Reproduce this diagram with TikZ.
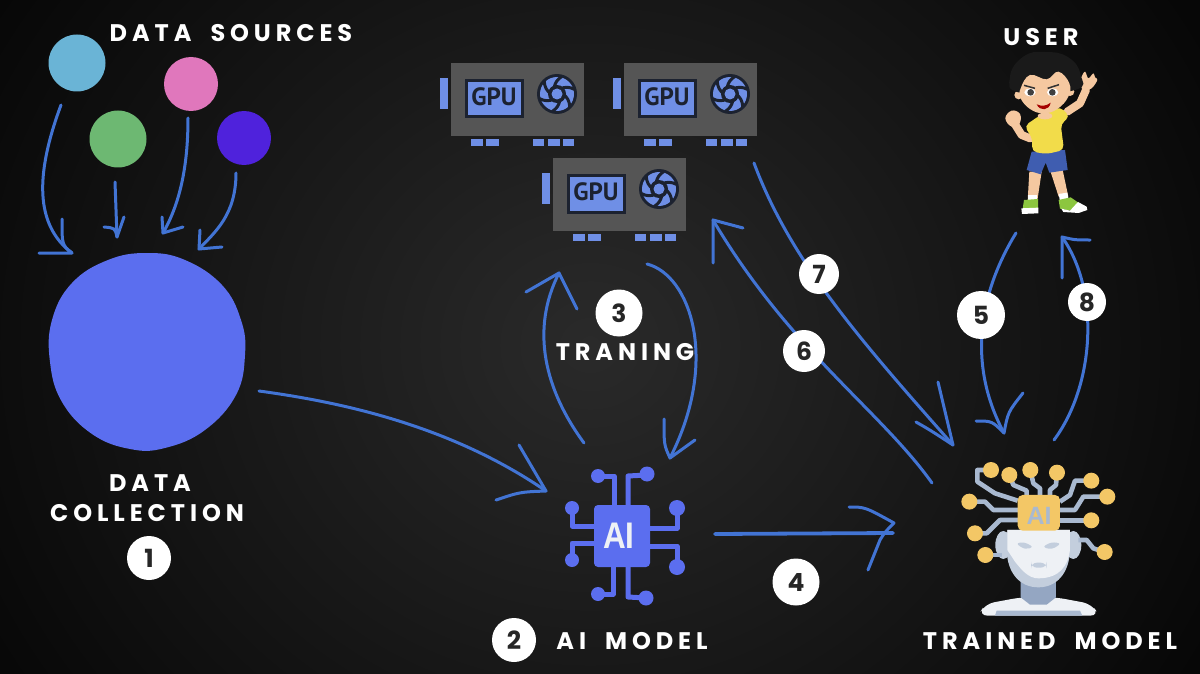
\documentclass[tikz,border=0pt]{standalone}
\usepackage{fontspec}
\setmainfont{Poppins}
\newfontfamily\lblfont[LetterSpace=20.5,WordSpace=1.9]{Poppins}
\newfontfamily\gpufont{PT Sans}
\newfontfamily\aifont{Liberation Sans}
\definecolor{bgdark}{HTML}{070707}
\definecolor{bglight}{HTML}{2A2A2A}
\definecolor{wire}{HTML}{4274D4}
\definecolor{srcA}{HTML}{6AB4D6}
\definecolor{srcB}{HTML}{E077BC}
\definecolor{srcC}{HTML}{6DB872}
\definecolor{srcD}{HTML}{4F22DC}
\definecolor{iris}{HTML}{5B6EEF}
\definecolor{gpublue}{HTML}{6F8FE6}
\definecolor{gpugray}{HTML}{555555}
\definecolor{gpuink}{HTML}{1C2230}
\definecolor{gold}{HTML}{F3C766}
\definecolor{trace}{HTML}{A9B9D0}
\definecolor{face}{HTML}{EEF1F5}
\definecolor{ear}{HTML}{C3CEDD}
\definecolor{neck}{HTML}{94A6C2}
\definecolor{skin}{HTML}{F5C8A0}
\definecolor{shirt}{HTML}{F2DC4A}
\definecolor{shorts}{HTML}{3F5DB0}
\definecolor{shoe}{HTML}{8CC63F}
\definecolor{hair}{HTML}{1A1A1A}
\tikzset{
  conn/.style={draw=wire,line width=3pt,line cap=round,line join=round,fill=none},
  lbl/.style={font=\lblfont\bfseries\fontsize{24}{24}\selectfont,text=white,inner sep=0pt,anchor=center},
  numdot/.style={circle,fill=white,text=black!85,inner sep=0pt,font=\bfseries\fontsize{25}{25}\selectfont},
  srcdot/.style={circle,inner sep=0pt},
  chipwire/.style={draw=iris,line width=5pt,line join=round,fill=none},
  pinball/.style={circle,fill=iris,inner sep=0pt},
  headwire/.style={draw=trace,line width=4.6pt,line join=round,fill=none},
  headball/.style={circle,fill=gold,inner sep=0pt,minimum size=16pt},
  tab/.style={fill=gpublue},
  gpucard/.pic={
    \fill[gpugray] (0,0) rectangle (132.5,73);
    \fill[tab] (-11,14.7) rectangle (-3.5,46.3);
    \draw[draw=gpuink,fill=gpublue,line width=3pt] (15,17.5) rectangle (71,54);
    \node[text=gpuink,inner sep=0pt,font=\gpufont\bfseries\fontsize{25}{25}\selectfont] (-label) at (43,34) {GPU};
    \foreach \xa/\xb in {19.7/31.7,35/47.7,81.7/93,96.7/108.7,111.7/122.7}{
      \fill[tab] (\xa,76) rectangle (\xb,83);
    }
    \begin{scope}[shift={(106,31)}]
      \fill[gpuink] (0,0) circle[radius=20pt];
      \fill[gpublue] (0,0) circle[radius=17pt];
      \foreach \a in {0,60,...,300}{
        \draw[gpuink,line width=3pt] (\a:6) to[bend left=25] (\a+45:18);
      }
      \fill[gpuink] (0,0) circle[radius=9pt];
      \fill[gpublue] (0,0) circle[radius=5.5pt];
    \end{scope}
  },
}
\begin{document}
\begin{tikzpicture}[x=1pt,y=-1pt]
\useasboundingbox (0,0) rectangle (1200,674);
\fill[bgdark] (0,0) rectangle (1200,674);
\begin{scope}
  \clip (0,0) rectangle (1200,674);
  \shade[inner color=bglight,outer color=bgdark] (590,345) ellipse[x radius=700pt,y radius=640pt];
\end{scope}

% data sources
\node[srcdot,fill=srcA,minimum size=57pt] (s1) at (77,63) {};
\node[srcdot,fill=srcB,minimum size=54pt] (s2) at (191,84) {};
\node[srcdot,fill=srcC,minimum size=57pt] (s3) at (118,139) {};
\node[srcdot,fill=srcD,minimum size=54pt] (s4) at (244,138) {};
\fill[iris] plot[smooth cycle,tension=.7] coordinates {(147,253) (185,260) (222,285) (241,320) (245,355) (236,395) (205,430) (165,448) (130,449) (92,434) (62,402) (50,362) (52,320) (72,283) (108,260)};
\coordinate (hub) at (147,351);

\node[lbl] (tsrc) at (231,33) {DATA SOURCES};
\node[lbl] (tdata) at (150,483) {DATA};
\node[lbl] (tcoll) at (147,513) {COLLECTION};
\node[lbl] (ttrain) at (625,352) {TRANING};
\node[lbl] (tai) at (632,641) {AI MODEL};
\node[lbl] (ttm) at (1050,641) {TRAINED MODEL};
\node[lbl] (tuser) at (1041,37) {USER};

% GPUs
\pic (g1) at (451,63) {gpucard};
\pic (g2) at (624,63) {gpucard};
\pic (g3) at (553,158) {gpucard};

% AI chip
\draw[chipwire] (598,476) -- (614,476) -- (614,510);
\draw[chipwire] (647,475) -- (628,476) -- (628,510);
\draw[chipwire] (572,508) -- (572,526) -- (600,526);
\draw[chipwire] (572,560) -- (572,543) -- (600,543);
\draw[chipwire] (677,508) -- (677,528) -- (645,528);
\draw[chipwire] (677,567) -- (677,546) -- (645,546);
\draw[chipwire] (598,594) -- (613,594) -- (613,560);
\draw[chipwire] (646,598) -- (628,597) -- (628,560);
\node[pinball,minimum size=14pt] (p1) at (598,476) {};
\node[pinball,minimum size=15pt] (p2) at (647,474) {};
\node[pinball,minimum size=14pt] (p3) at (572,508) {};
\node[pinball,minimum size=14pt] (p4) at (572,560) {};
\node[pinball,minimum size=16pt] (p5) at (677,508) {};
\node[pinball,minimum size=16pt] (p6) at (677,567) {};
\node[pinball,minimum size=14pt] (p7) at (598,594) {};
\node[pinball,minimum size=15pt] (p8) at (646,598) {};
\node[fill=iris,rounded corners=4pt,minimum width=56pt,minimum height=62pt,inner sep=0pt] (chip) at (622,536) {};
\node[text=face,inner sep=0pt,font=\aifont\bfseries\fontsize{37}{37}\selectfont,xscale=.85] (chiptext) at (619,536) {AI};

% trained model
\begin{scope}[shift={(950,450)},x=.3333pt,y=-.3333pt]
  \fill[face,rounded corners=9pt] (85,497) -- (105,462) -- (212,442) -- (318,442) -- (425,462) -- (448,497) -- cycle;
  \fill[trace] (135,497) -- (140,482) -- (390,482) -- (397,497) -- cycle;
  \fill[neck] (212,395) -- (318,395) -- (318,442) -- (290,464) -- (240,464) -- (212,442) -- cycle;
  \fill[ear] (160,285) ellipse[x radius=24,y radius=42];
  \fill[ear] (370,285) ellipse[x radius=24,y radius=42];
  \fill[ear] (172,240) -- (360,240) -- (360,300) .. controls (358,370) and (320,412) .. (265,412) .. controls (210,412) and (172,370) .. (170,300) -- cycle;
  \fill[face] (172,240) -- (360,240) -- (360,300) .. controls (355,345) and (330,385) .. (265,385) .. controls (235,385) and (215,360) .. (195,335) -- (172,300) -- cycle;
  \fill[ear] plot[smooth cycle,tension=.7] coordinates {(203,282) (222,278) (245,290) (225,296)};
  \fill[ear] plot[smooth cycle,tension=.7] coordinates {(283,290) (305,278) (328,282) (305,296)};
  \fill[ear,rounded corners=6pt] (243,338) rectangle (290,353);
  \draw[headwire] (123,60) -- (82,60) -- (82,95) -- (135,130) -- (203,152);
  \draw[headwire] (178,75) -- (190,105) -- (230,122) -- (230,140);
  \draw[headwire] (241,60) -- (250,100) -- (270,115) -- (270,140);
  \draw[headwire] (321,68) -- (318,105) -- (300,120) -- (300,140);
  \draw[headwire] (424,92) -- (375,92) -- (360,135) -- (330,155);
  \draw[headwire] (472,140) -- (400,140) -- (375,180) -- (330,180);
  \draw[headwire] (424,211) -- (330,211);
  \draw[headwire] (58,155) -- (105,155) -- (130,180) -- (210,180);
  \draw[headwire] (75,250) -- (110,250) -- (150,210) -- (210,210);
  \draw[headwire] (106,315) -- (155,315);
  \draw[headwire] (464,306) -- (430,295) -- (410,270) -- (385,270);
  \foreach \n/\p in {a/{(123,60)},b/{(178,75)},c/{(241,60)},d/{(321,68)},e/{(424,92)},f/{(472,140)},g/{(424,211)},h/{(58,155)},i/{(75,250)},j/{(106,315)},k/{(464,306)}}{
    \node[headball] (ball\n) at \p {};
  }
  \fill[gold,rounded corners=5pt] (203,135) rectangle (330,242);
  \node[text=trace,inner sep=0pt,font=\aifont\bfseries\fontsize{25}{25}\selectfont] (headtext) at (267,197) {AI};
\end{scope}

% user
\begin{scope}[shift={(980,40)},x=.3333pt,y=-.3333pt]
  % legs
  \fill[skin] (148,395) -- (185,395) -- (172,482) -- (143,482) -- cycle;
  \fill[skin] (210,390) -- (248,390) -- (265,470) -- (236,470) -- cycle;
  \fill[white] (143,466) rectangle (172,485);
  \fill[white] (236,462) -- (262,458) -- (266,480) -- (240,484) -- cycle;
  \fill[shoe] (132,480) -- (174,477) -- (174,506) -- (128,506) -- cycle;
  \fill[white] (124,505) -- (175,503) -- (175,520) -- (126,522) -- cycle;
  \fill[shoe] (236,480) -- (272,472) -- (298,490) -- (270,512) -- (240,506) -- cycle;
  \fill[white] (244,506) -- (270,512) -- (294,486) -- (320,500) -- (322,510) -- (296,519) -- (250,516) -- cycle;
  % shorts
  \fill[shorts] (155,335) -- (255,330) -- (263,390) -- (208,398) -- (197,368) -- (182,403) -- (140,390) -- cycle;
  % arms
  \draw[skin,line width=8pt,line cap=round,line join=round] (150,295) -- (125,285) -- (100,245);
  \fill[skin] plot[smooth cycle,tension=.7] coordinates {(76,235) (95,212) (120,222) (118,252) (95,260)};
  \draw[skin,line width=8pt,line cap=round,line join=round] (262,215) -- (300,190) -- (318,150);
  \fill[skin] plot[smooth cycle,tension=.6] coordinates {(303,115) (315,95) (325,115) (340,100) (345,112) (352,120) (335,145) (312,152) (302,135)};
  % shirt
  \fill[shirt,rounded corners=5pt] (133,258) -- (180,226) -- (240,200) -- (270,230) -- (242,252) -- (252,330) -- (200,342) -- (156,335) -- (157,295) -- cycle;
  \fill[skin] (195,228) ellipse[x radius=22,y radius=10];
  % head
  \fill[skin] (116,165) circle[radius=13];
  \fill[skin] (270,155) circle[radius=13];
  \fill[hair] plot[smooth cycle,tension=.8] coordinates {(90,110) (130,50) (195,36) (265,52) (302,105) (285,150) (120,158)};
  \fill[skin] plot[smooth cycle,tension=.7] coordinates {(122,145) (150,105) (200,118) (235,95) (268,130) (265,170) (232,207) (190,220) (150,207) (122,175)};
  \fill[white] (150,157) ellipse[x radius=17,y radius=12];
  \fill[white] (218,157) ellipse[x radius=17,y radius=12];
  \fill[black!75] (152,157) circle[radius=10];
  \fill[black!75] (217,157) circle[radius=10];
  \draw[black!80,line width=1.5pt] (132,136) -- (165,145);
  \draw[black!80,line width=1.5pt] (203,145) -- (237,134);
  \fill[red!65!black] (170,193) .. controls (185,200) and (200,198) .. (212,188) .. controls (208,212) and (180,215) .. (170,193) -- cycle;
\end{scope}

% connector end points
\coordinate (a1s) at (61,105); \coordinate (a1t) at (72,253); \coordinate (a1x) at (39,253); \coordinate (a1y) at (62,219);
\coordinate (a2s) at (115,182); \coordinate (a2t) at (117,237); \coordinate (a2x) at (104,227); \coordinate (a2y) at (124,217);
\coordinate (a3s) at (188,118); \coordinate (a3t) at (163,233); \coordinate (a3x) at (162,217); \coordinate (a3y) at (183,227);
\coordinate (a4s) at (236,173); \coordinate (a4t) at (199,249); \coordinate (a4x) at (200,230); \coordinate (a4y) at (222,247);
\coordinate (b1s) at (259,391); \coordinate (b1t) at (546,491); \coordinate (b1x) at (519,445); \coordinate (b1y) at (496,500);
\coordinate (c1s) at (584,443); \coordinate (c1t) at (559,273); \coordinate (c1x) at (526,292); \coordinate (c1y) at (577,309);
\coordinate (c2s) at (647,264); \coordinate (c2t) at (670,458); \coordinate (c2x) at (664,419); \coordinate (c2y) at (695,440);
\coordinate (d1s) at (715,534); \coordinate (d1t) at (893,533); \coordinate (d1p) at (894,523); \coordinate (d1x) at (849,507); \coordinate (d1y) at (868,570); \coordinate (d1z) at (880,540);
\coordinate (e7s) at (754,163); \coordinate (e7t) at (953,445); \coordinate (e7x) at (938,382); \coordinate (e7y) at (916,422);
\coordinate (e6s) at (932,483); \coordinate (e6t) at (713,220); \coordinate (e6x) at (713,263); \coordinate (e6y) at (743,228);
\coordinate (f5s) at (1016,233); \coordinate (f5t) at (1004,433); \coordinate (f5x) at (976,421); \coordinate (f5y) at (1023,393);
\coordinate (f8s) at (1054,440); \coordinate (f8t) at (1062,237); \coordinate (f8x) at (1062,278); \coordinate (f8y) at (1090,240);

% connectors
\draw[conn] (a1s) .. controls (35,175) and (35,225) .. (a1t);
\draw[conn] (a1x) -- (a1t) .. controls (62,245) .. (a1y);
\draw[conn] (a2s) -- (a2t); \draw[conn] (a2x) .. controls (115,228) .. (a2t) -- (a2y);
\draw[conn] (a3s) .. controls (188,160) and (182,200) .. (a3t); \draw[conn] (a3x) -- (a3t) -- (a3y);
\draw[conn] (a4s) .. controls (236,215) and (215,232) .. (a4t); \draw[conn] (a4x) -- (a4t) -- (a4y);
\draw[conn] (b1s) .. controls (340,402) and (450,425) .. (b1t); \draw[conn] (b1x) -- (b1t) .. controls (520,492) .. (b1y);
\draw[conn] (c1s) .. controls (545,390) and (530,330) .. (c1t); \draw[conn] (c1x) -- (c1t) -- (c1y);
\draw[conn] (c2s) .. controls (690,275) and (720,360) .. (c2t); \draw[conn] (c2x) .. controls (664,445) .. (c2t) -- (c2y);
\draw[conn,line width=3.8pt] (d1s) -- (d1t);
\draw[conn] (d1x) .. controls (865,507) .. (d1p) .. controls (885,532) .. (d1z) -- (d1y);
\draw[conn] (e7s) .. controls (790,260) and (860,340) .. (e7t); \draw[conn] (e7x) -- (e7t) .. controls (930,430) .. (e7y);
\draw[conn] (e6s) .. controls (880,410) and (790,350) .. (e6t); \draw[conn] (e6x) -- (e6t) -- (e6y);
\draw[conn] (f5s) .. controls (975,300) and (970,370) .. (f5t); \draw[conn] (f5x) .. controls (992,421) .. (f5t) .. controls (1008,412) .. (f5y);
\draw[conn] (f8s) .. controls (1095,385) and (1100,290) .. (f8t); \draw[conn] (f8x) -- (f8t) .. controls (1075,240) .. (f8y);

% numbers
\node[numdot,minimum size=44pt] (n1) at (149,558) {1};
\node[numdot,minimum size=44pt] (n2) at (514,640) {2};
\node[numdot,minimum size=47pt] (n3) at (619,313) {3};
\node[numdot,minimum size=47pt] (n4) at (796,582) {4};
\node[numdot,minimum size=48pt] (n5) at (981,315) {5};
\node[numdot,minimum size=42pt] (n6) at (804,351) {6};
\node[numdot,minimum size=40pt] (n7) at (819,274) {7};
\node[numdot,minimum size=38pt] (n8) at (1087,302) {8};
\end{tikzpicture}
\end{document}
